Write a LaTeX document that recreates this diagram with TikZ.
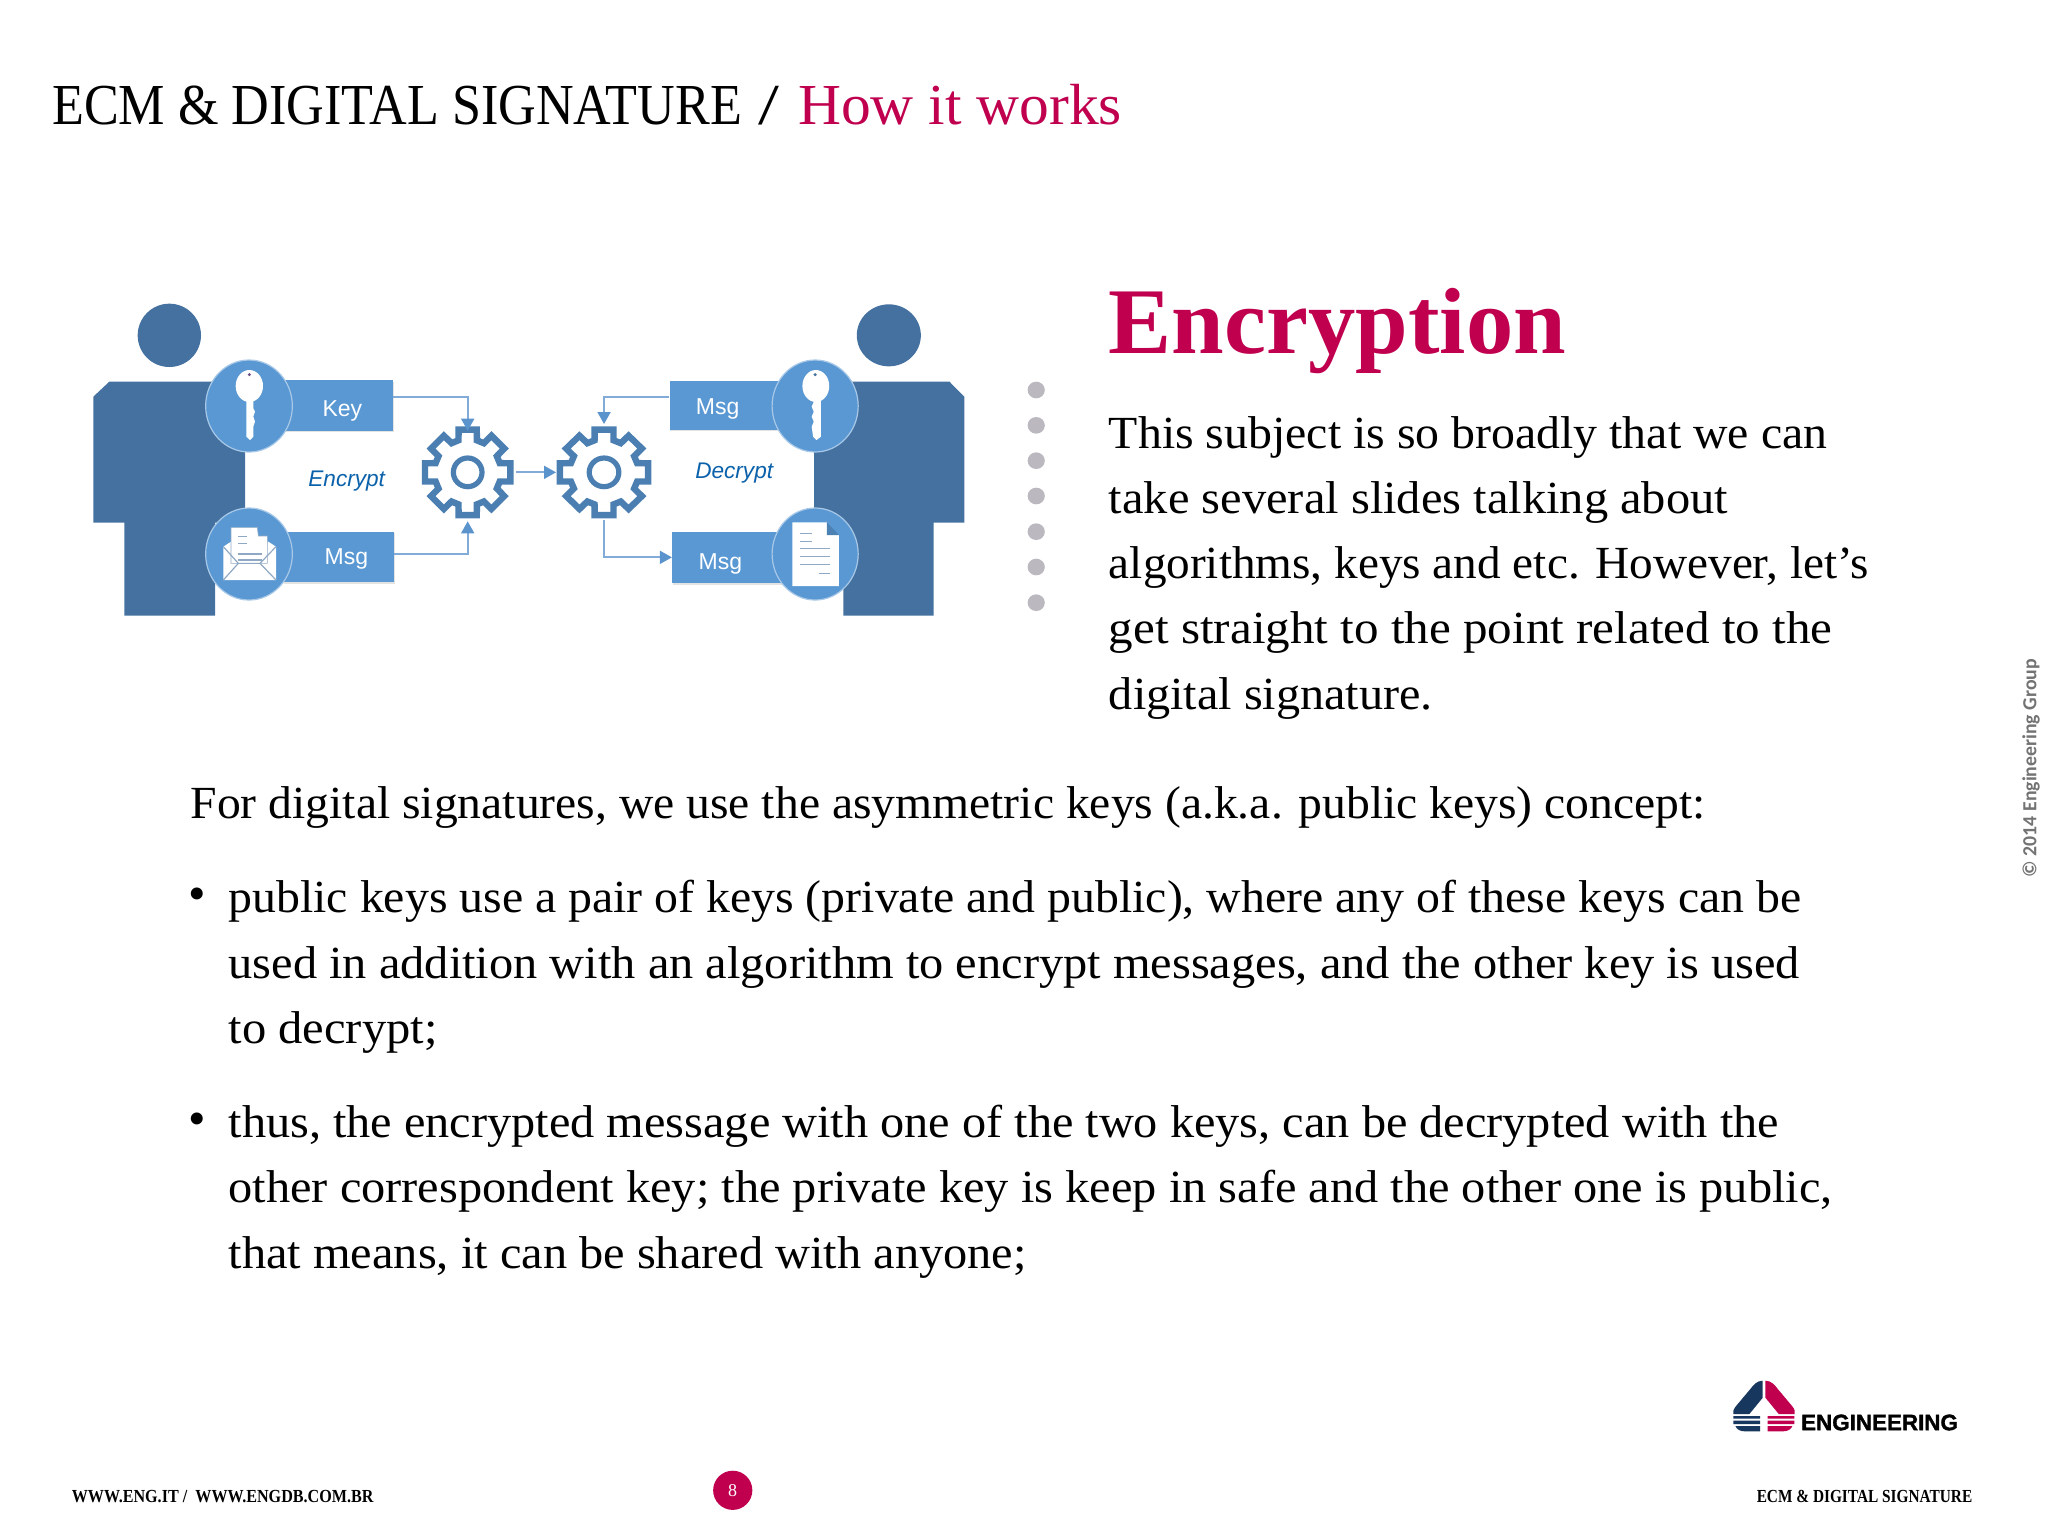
\documentclass[tikz,border=0pt]{standalone}
\usepackage{fontspec}
\usepackage{graphicx}
\setmainfont{Liberation Serif}
\setsansfont{Liberation Sans}
\newfontfamily\sidefont{Carlito}
\usetikzlibrary{arrows.meta,calc,shadows}
\definecolor{pinkc}{HTML}{C0004F}
\definecolor{bodyc}{HTML}{44719F}
\definecolor{boxc}{HTML}{5998D3}
\definecolor{linec}{HTML}{82ABD8}
\definecolor{tipc}{HTML}{5B93CC}
\definecolor{gearc}{HTML}{4B7FB2}
\definecolor{wordc}{HTML}{0B62AB}
\definecolor{dotc}{HTML}{BBB9BF}
\definecolor{navyc}{HTML}{17375E}
\definecolor{doclinec}{HTML}{8FA9C4}
\definecolor{ringc}{HTML}{A8C8E8}
\newcommand\fitline[6]{% name, x1, x2, y, font, text
  \pgfmathsetmacro\fitW{(#3-#2)*0.65306}%
  \node[linetext] (#1) at (#2,#4) {\resizebox{\fitW pt}{\height}{#5#6}};}
\tikzset{
  linetext/.style={anchor=base west,inner sep=0pt,outer sep=0pt},
  person/.style={fill=bodyc,draw=none},
  bluebox/.style={fill=boxc,draw=none,rectangle,inner sep=0pt,outer sep=0pt,
    drop shadow={opacity=0.22,shadow xshift=0.3pt,shadow yshift=-0.8pt}},
  badge/.style={fill=boxc,draw=ringc,line width=0.6pt},
  boxlabel/.style={font=\sffamily\fontsize{11.5}{13}\selectfont,text=white,inner sep=0pt},
  actlabel/.style={font=\sffamily\itshape\fontsize{11.3}{13}\selectfont,text=wordc,inner sep=0pt},
  link/.style={draw=linec,line width=0.9pt,-{Triangle[width=6.5pt,length=6pt,color=tipc,fill=tipc]}},
  sideDot/.style={fill=dotc,draw=none},
  bullettext/.style={linetext,font=\fontsize{25}{25}\selectfont},
  gearicon/.pic={
    \draw[gearc,line width=3.2pt,miter limit=4] (-16:100)
      \foreach \a in {0,45,...,315}{ -- (\a-16:100) -- (\a-12:131) -- (\a+12:131) -- (\a+16:100) } -- cycle;
    \draw[gearc,line width=2.6pt] (0,0) circle[radius=43];
  }
}
\begin{document}
\begin{tikzpicture}[x=0.65306pt,y=-0.65306pt]
\useasboundingbox (0,0) rectangle (1568,1176);
\fill[white] (0,0) rectangle (1568,1176);

% ----- title
\fitline{title}{40}{568}{95}{\fontsize{29}{34}\selectfont}{ECM \& DIGITAL SIGNATURE}
\fitline{titles}{581}{597}{95}{\fontsize{29}{34}\selectfont}{/}
\fitline{titleb}{611}{859}{95}{\color{pinkc}\fontsize{29}{34}\selectfont}{How it works}

% ----- left person
\begin{scope}[shift={(53.594,214.375)},x=0.16667pt,y=-0.16667pt]
  \fill[person] (298,166) circle[radius=95];
  \fill[person] (118,305) -- (525,305) -- (525,728) -- (435,728) -- (435,1007) -- (163,1007) -- (163,728) -- (70,728) -- (70,350) -- cycle;
  \node[bluebox,minimum width=55pt,minimum height=25.3pt] (keybox) at (805,376) {};
  \node[bluebox,minimum width=55.5pt,minimum height=25.3pt] (msgboxa) at (806,831) {};
  \filldraw[badge] (537,378) ellipse[x radius=130,y radius=138];
  \filldraw[badge] (537,822) ellipse[x radius=130,y radius=138];
  % key
  \fill[white] (538,318) ellipse[x radius=41,y radius=48];
  \fill[white] (529,345) -- (550,345) -- (550,385) -- (555,395) -- (550,410) -- (555,425) -- (550,440) -- (550,470) -- (540,480) -- (529,470) -- cycle;
  \fill[bodyc!70!pinkc] (538,284) circle[radius=5];
  % envelope
  \fill[white] (460,800) -- (483,785) -- (595,785) -- (618,800) -- (618,900) -- (460,900) -- cycle;
  \filldraw[fill=white,draw=doclinec,line width=0.3pt] (483,742) -- (562,742) -- (565,768) -- (592,768) -- (592,850) -- (483,850) -- cycle;
  \draw[doclinec,line width=0.6pt] (505,770) -- (530,770) (505,790) -- (530,790) (505,822) -- (575,822) (505,840) -- (575,840);
  \draw[doclinec,line width=0.6pt] (460,800) -- (505,850) -- (570,850) -- (618,800) (460,900) -- (505,850) (618,900) -- (570,850);
  % labels
  \node[boxlabel] (keylabel) at (817,392) {Key};
  \node[boxlabel] (msglabela) at (829,838) {Msg};
  \node[actlabel] (encrypt) at (830,604) {Encrypt};
  % gear
  \pic at (1193,577) {gearicon};
  \coordinate (keyout) at (970,352);
  \coordinate (gearAtop) at (1193,452);
  \coordinate (msgout) at (973,823);
  \coordinate (gearAbot) at (1193,724);
  \coordinate (gearAright) at (1337,577);
  \coordinate (gearBleft) at (1458,577);
  \draw[link] (keyout) -| (gearAtop);
  \draw[link] (msgout) -| (gearAbot);
  \draw[link] (gearAright) -- (gearBleft);
\end{scope}

% ----- right person
\begin{scope}[shift={(405.78,214.375)},x=0.17218pt,y=-0.16667pt]
  \fill[person] (1042,166) circle[radius=93];
  \fill[person] (825,305) -- (1218,305) -- (1261,350) -- (1261,728) -- (1172,728) -- (1172,1007) -- (910,1007) -- (910,728) -- (825,728) -- cycle;
  \node[bluebox,minimum width=56pt,minimum height=24.5pt] (msgboxb) at (568,375) {};
  \node[bluebox,minimum width=55pt,minimum height=25.3pt] (msgboxc) at (572,833) {};
  \filldraw[badge] (828,378) ellipse[x radius=125,y radius=138];
  \filldraw[badge] (828,822) ellipse[x radius=125,y radius=138];
  % key
  \fill[white] (830,318) ellipse[x radius=39,y radius=48];
  \fill[white] (824,345) -- (845,345) -- (845,470) -- (832,480) -- (822,470) -- (818,440) -- (824,425) -- (818,410) -- (824,395) -- (818,380) -- (824,365) -- cycle;
  \fill[bodyc] (828,284) circle[radius=5];
  % document
  \fill[white] (762,727) -- (862,727) -- (862,765) -- (897,765) -- (897,918) -- (762,918) -- cycle;
  \fill[bodyc!60!boxc] (862,727) -- (897,765) -- (862,765) -- cycle;
  \draw[doclinec,line width=0.7pt] (785,760) -- (820,760) (785,784) -- (820,784) (785,806) -- (870,806) (785,830) -- (870,830) (785,854) -- (870,854) (838,880) -- (870,880);
  % labels
  \node[boxlabel] (msglabelb) at (545,387) {Msg};
  \node[boxlabel] (msglabelc) at (553,851) {Msg};
  \node[actlabel] (decrypt) at (593,578) {Decrypt};
  % gear
  \pic at (215,577) {gearicon};
  \coordinate (msgbout) at (405,350);
  \coordinate (gearBtop) at (215,432);
  \coordinate (gearBbot) at (215,720);
  \coordinate (msgcin) at (412,832);
  \draw[link] (msgbout) -| (gearBtop);
  \draw[link] (gearBbot) |- (msgcin);
  % dots
  \foreach \n/\yy in {1/330,2/436,3/542,4/648,5/755,6/861,7/968}
    \fill[sideDot] (1470,\yy) circle[radius=25];
\end{scope}

% ----- right column
\fitline{enc}{849}{1199}{271}{\color{pinkc}\bfseries\fontsize{47}{52}\selectfont}{Encryption}
\def\bodyf{\fontsize{23}{28}\selectfont}
\fitline{r1}{849}{1399}{343}{\bodyf}{This subject is so broadly that we can}
\fitline{r2}{849}{1323}{393}{\bodyf}{take several slides talking about}
\fitline{r3}{849}{1431}{443}{\bodyf}{algorithms, keys and etc. However, let’s}
\fitline{r4}{849}{1403}{493}{\bodyf}{get straight to the point related to the}
\fitline{r5}{849}{1097}{543}{\bodyf}{digital signature.}

% ----- lower text
\fitline{p0}{146}{1306}{627}{\bodyf}{For digital signatures, we use the asymmetric keys (a.k.a. public keys) concept:}
\node[bullettext] (b1) at (144.5,697) {•};
\fitline{p1}{175}{1379}{699}{\bodyf}{public keys use a pair of keys (private and public), where any of these keys can be}
\fitline{p2}{175}{1378}{749}{\bodyf}{used in addition with an algorithm to encrypt messages, and the other key is used}
\fitline{p3}{175}{335}{799}{\bodyf}{to decrypt;}
\node[bullettext] (b2) at (144.5,869) {•};
\fitline{p4}{175}{1362}{871}{\bodyf}{thus, the encrypted message with one of the two keys, can be decrypted with the}
\fitline{p5}{175}{1403}{921}{\bodyf}{other correspondent key; the private key is keep in safe and the other one is public,}
\fitline{p6}{175}{786}{971}{\bodyf}{that means, it can be shared with anyone;}

% ----- side note
\pgfmathsetmacro\sideW{167*0.65306}
\node[rotate=90,inner sep=0pt,text=black!55,font=\sidefont\bfseries\fontsize{10}{12}\selectfont] (side) at (1555,588) {\resizebox{\sideW pt}{\height}{© 2014 Engineering Group}};

% ----- logo
\begin{scope}[shift={(1301.6,1033.6)},x=0.16667pt,y=-0.16667pt]
  \fill[navyc] (188,92) .. controls (170,92) and (160,105) .. (150,118) -- (108,168) .. controls (100,178) and (98,185) .. (100,192) -- (148,192) -- (188,143) -- cycle;
  \fill[pinkc] (196,92) .. controls (214,92) and (224,105) .. (234,118) -- (276,168) .. controls (284,178) and (286,185) .. (284,192) -- (236,192) -- (196,143) -- cycle;
  \fill[navyc] (100,198) rectangle (180,206) (100,212) rectangle (180,222);
  \fill[navyc] (106,228) -- (180,228) -- (180,244) -- (135,244) .. controls (120,244) and (110,238) .. (106,228) -- cycle;
  \fill[pinkc] (203,198) rectangle (283,206) (203,212) rectangle (283,222);
  \fill[pinkc] (277,228) -- (203,228) -- (203,244) -- (248,244) .. controls (263,244) and (273,238) .. (277,228) -- cycle;
\end{scope}
\fitline{enging}{1379}{1499}{1095}{\sffamily\bfseries\addfontfeature{FakeBold=1.5}\fontsize{11.2}{13}\selectfont}{ENGINEERING}

% ----- footer
\def\footf{\bfseries\fontsize{9.2}{11}\selectfont}
\fitline{fl}{55}{286}{1150}{\footf}{WWW.ENG.IT /\ \ WWW.ENGDB.COM.BR}
\fitline{fr}{1345}{1510}{1150}{\footf}{ECM \& DIGITAL SIGNATURE}
\node[circle,fill=pinkc,minimum size=19.6pt,inner sep=0pt,text=white,font=\fontsize{9}{11}\selectfont] (pagenum) at (561,1141) {8};
\end{tikzpicture}
\end{document}
